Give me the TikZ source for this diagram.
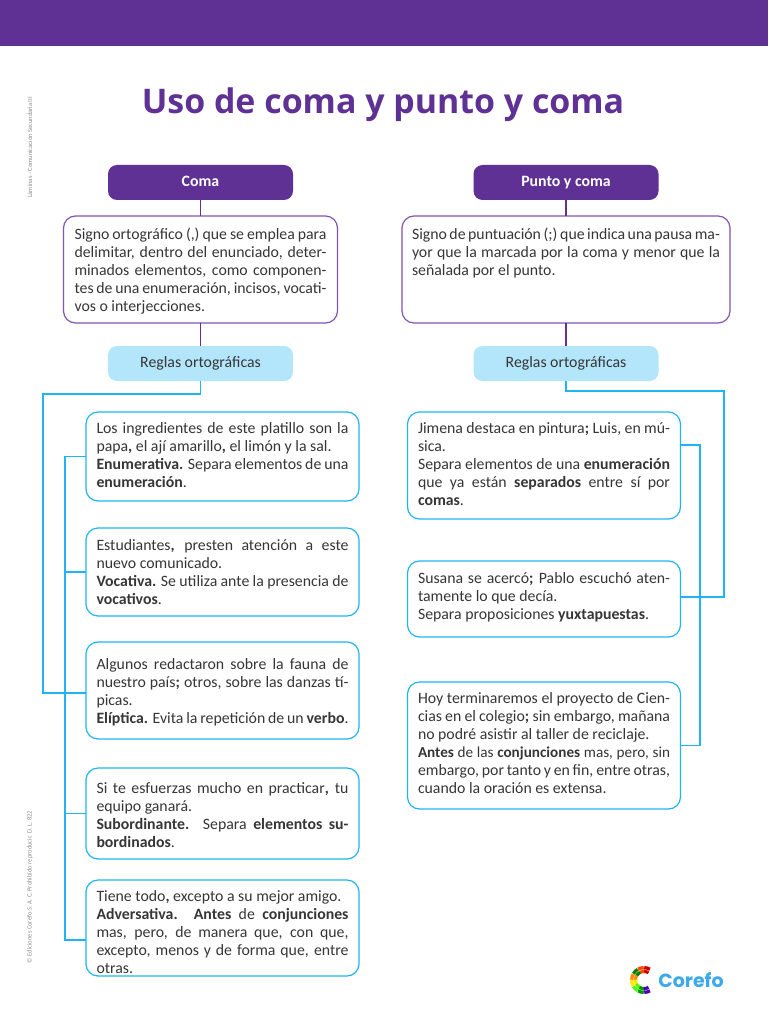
\documentclass[tikz,border=0pt]{standalone}
\usepackage{fontspec}
\setmainfont{Carlito}
\newfontfamily\titlefont{Open Sans}
\newfontfamily\logofont{Poppins}
\usetikzlibrary{positioning}
\definecolor{morado}{HTML}{5F3194}
\definecolor{moradoclaro}{HTML}{8156AE}
\definecolor{celeste}{HTML}{1FB4F4}
\definecolor{celestefondo}{HTML}{B3E5FB}
\definecolor{tinta}{HTML}{363636}
\definecolor{logoazul}{HTML}{3DA9E8}
\tikzset{
  head/.style  ={fill=morado, rounded corners=9pt, minimum width=185pt, minimum height=35pt, outer sep=0pt,
                 text=white, text height=11pt, text depth=3pt, font=\fontsize{15.8}{18}\selectfont\bfseries},
  rules/.style ={fill=celestefondo, rounded corners=9pt, minimum width=185pt, minimum height=35pt, outer sep=0pt,
                 text=tinta, text height=11pt, text depth=3pt, font=\fontsize{15.8}{18}\selectfont},
  desc/.style  ={draw=moradoclaro, line width=1.2pt, rounded corners=12pt, fill=white, text=tinta, outer sep=0pt,
                 inner xsep=0pt, inner ysep=0pt, minimum height=107pt, align=justify,
                 font=\fontsize{15.8}{18}\selectfont},
  ejem/.style  ={desc, draw=celeste, text width=252pt, minimum width=273pt},
  plin/.style  ={morado, line width=1.2pt},
  blin/.style  ={celeste, line width=1.1pt},
  side/.style  ={rotate=90, text=black!45, font=\fontsize{6.5}{7}\selectfont}
}
\newcommand{\br}{\linebreak[4]}
\newcommand{\ajuste}[1]{\par\kern#1}
\begin{document}
\begin{tikzpicture}[x=1pt,y=-1pt]
  \useasboundingbox[fill=white] (0,0) rectangle (768,1024);
  \fill[morado] (0,0) rectangle (768,46);
  \node[text=morado, font=\titlefont\fontsize{33.9}{38}\selectfont\bfseries](title) at (383,105){Uso de coma y punto y coma};
  \node[side](sideA) at (30,147.5){Láminas - Comunicación Secundaria III};
  \node[side](sideB) at (30,887){© Ediciones Corefo S. A. C. Prohibido reproducir. D. L. 822};

  % left column
  \node[head](coma) at (200.5,182.5){Coma};
  \node[desc, text width=252pt, minimum width=274pt, below=16pt of coma](signoa){Signo ortográfico (,) que se emplea para\br
    delimitar, dentro del enunciado, deter-\br minados elementos, como componen-\br
    tes de una enumeración, incisos, vocati-\br vos o interjecciones.\ajuste{-4pt}};
  \node[rules, below=23pt of signoa](reglasa){Reglas ortográficas};
  \node[ejem, minimum height=89pt] (enum) at (222.5,456.5){Los ingredientes de este platillo son la\br
    papa\textbf{,} el ají amarillo\textbf{,} el limón y la sal.\newline
    \textbf{Enumerativa.} Separa elementos de una\br \textbf{enumeración}.\ajuste{2pt}};
  \node[ejem, minimum height=88pt, below=27pt of enum](voca){Estudiantes\textbf{,} presten atención a este\br
    nuevo comunicado.\newline
    \textbf{Vocativa.} Se utiliza ante la presencia de\br \textbf{vocativos}.};
  \node[ejem, minimum height=97pt, below=26pt of voca](elip){Algunos redactaron sobre la fauna de\br
    nuestro país\textbf{;} otros, sobre las danzas tí-\br picas.\newline
    \textbf{Elíptica.} Evita la repetición de un \textbf{verbo}.\ajuste{-4pt}};
  \node[ejem, minimum height=91pt, below=29pt of elip](subo){Si te esfuerzas mucho en practicar\textbf{,} tu\br
    equipo ganará.\newline
    \textbf{Subordinante.} Separa \textbf{elementos su-}\br \textbf{bordinados}.\ajuste{-4pt}};
  \node[ejem, minimum height=96pt, below=21pt of subo](adve){Tiene todo\textbf{,} excepto a su mejor amigo.\newline
    \textbf{Adversativa. Antes} de \textbf{conjunciones}\br
    mas, pero, de manera que, con que,\br
    excepto, menos y de forma que, entre\br otras.\ajuste{-8pt}};

  % right column
  \node[head](punto) at (566,182.5){Punto y coma};
  \node[desc, text width=308pt, minimum width=328pt, below=16pt of punto](signob){Signo de puntuación (;) que indica una pausa ma-\br
    yor que la marcada por la coma y menor que la\br señalada por el punto.\newline\mbox{}\newline\mbox{}};
  \node[rules, below=23pt of signob](reglasb){Reglas ortográficas};
  \node[ejem, minimum height=107pt] (enumb) at (544,465.5){Jimena destaca en pintura\textbf{;} Luis, en mú-\br
    sica.\newline
    Separa elementos de una \textbf{enumeración}\br
    que ya están \textbf{separados} entre sí por\br \textbf{comas}.\ajuste{2pt}};
  \node[ejem, minimum height=76pt, below=42pt of enumb](yuxt){Susana se acercó\textbf{;} Pablo escuchó aten-\br
    tamente lo que decía.\newline
    Separa proposiciones \textbf{yuxtapuestas}.\ajuste{4pt}};
  \node[ejem, minimum height=127pt, below=45pt of yuxt](conj){Hoy terminaremos el proyecto de Cien-\br
    cias en el colegio\textbf{;} sin embargo, mañana\br
    no podré asistir al taller de reciclaje.\newline
    {\fontsize{15.2}{18}\selectfont\textbf{Antes} de las \textbf{conjunciones} mas, pero, sin}\br
    embargo, por tanto y en fin, entre otras,\br
    cuando la oración es extensa.\ajuste{4pt}};

  \draw[plin](coma)--(signoa);\draw[plin](signoa)--(reglasa);
  \draw[plin](punto)--(signob);\draw[plin](signob)--(reglasb);

  \coordinate(troncoa) at (65,456);
  \coordinate(troncob) at (700,445);
  \coordinate(codoa) at (43,394);
  \coordinate(codob) at (724,391);
  \draw[blin](reglasa.south) |- (codoa) |- ([yshift=-2.5pt]elip.west);
  \draw[blin](enum.west -| troncoa) -- (enum.west);
  \draw[blin](troncoa) |- ([yshift=-12pt]adve.west);
  \draw[blin](voca.west) -- (voca.west -| troncoa);
  \draw[blin](subo.west) -- (subo.west -| troncoa);
  \draw[blin](reglasb.south) |- (codob) |- ([yshift=2pt]yuxt.east);
  \draw[blin]([yshift=20.5pt]enumb.east) -- (troncob) |- (conj.east);

  % logo
  \foreach \ang/\col in {75/red!80!black, 105/red!70!yellow, 135/green!50!black, 165/orange!90!yellow,
      195/yellow!90!orange, 225/green!70!yellow, 255/green!60!black, 285/blue!70!red}{
    \draw[\col, line width=7pt] (644,980) ++(\ang-15:10.5pt) arc[start angle=\ang-15, end angle=\ang+15, radius=10.5pt];
  }
  \draw[white, line width=0.25pt] (644,980) ++(60:10.5pt) arc[start angle=60, end angle=300, radius=10.5pt];
  \node[text=logoazul, font=\logofont\fontsize{19}{22}\selectfont\bfseries, inner sep=0pt](corefo) at (691,980){Corefo};
\end{tikzpicture}
\end{document}
